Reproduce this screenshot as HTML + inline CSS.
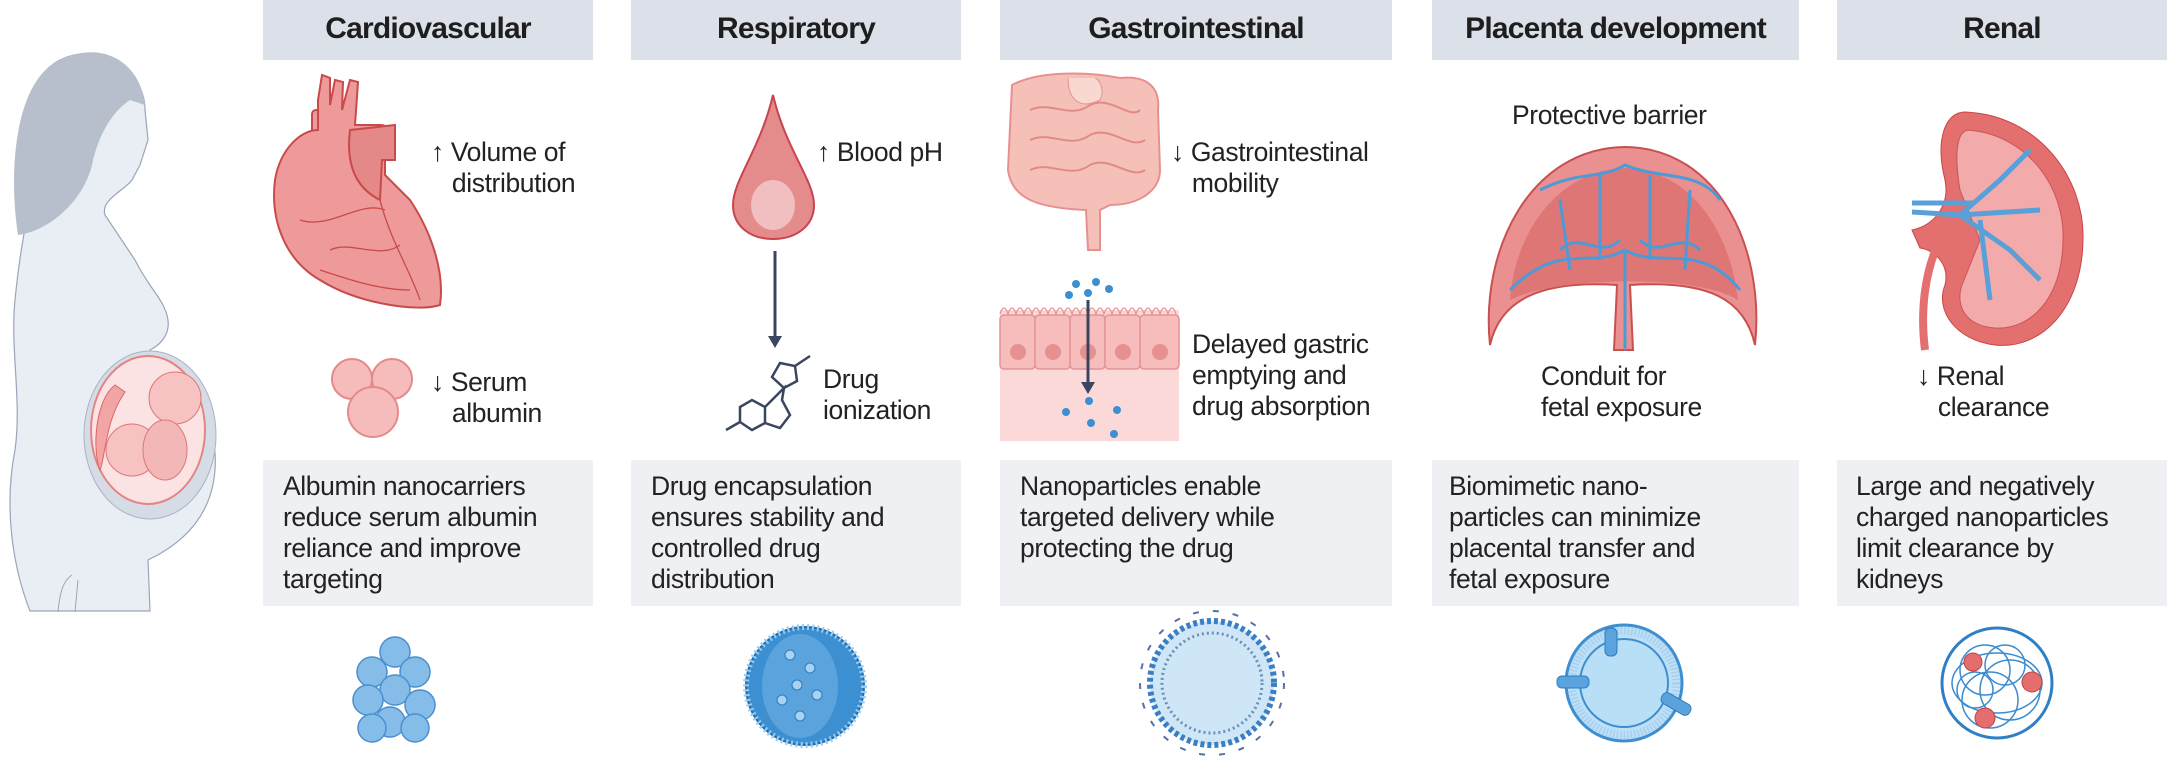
<!DOCTYPE html>
<html><head><meta charset="utf-8"><style>
body{margin:0;width:2167px;height:760px;background:#fff;position:relative;overflow:hidden;font-family:"Liberation Sans",sans-serif;color:#222}
.h{position:absolute;top:0;height:60px;background:#dce1e9;font-weight:bold;font-size:30px;line-height:58px;text-align:center;color:#1e1e1e;letter-spacing:-0.8px}
.b{position:absolute;top:460px;height:146px;background:#eff0f4;font-size:26.5px;line-height:31px;letter-spacing:-0.4px;box-sizing:border-box;padding:11px 0 0 20px;color:#222;white-space:nowrap}
.t{position:absolute;font-size:26.5px;line-height:31px;letter-spacing:-0.4px;color:#222;white-space:nowrap}
svg{position:absolute;left:0;top:0}
</style></head><body>
<svg width="2167" height="760">
<path d="M60 60 C100 40 145 70 145 110 L148 140 L140 165 L132 180 C125 190 100 200 105 215 L135 260 C150 290 165 300 168 320 C170 335 160 345 150 350 L170 380 C200 400 218 430 215 470 C212 510 190 540 148 560 L150 611 L30 611 C10 560 5 500 15 450 C22 400 10 350 15 300 C20 250 25 230 30 200 C20 150 20 80 60 60Z" fill="#e9edf4" stroke="#9aa5b8" stroke-width="1.2"/>
<path d="M60 60 C100 40 140 60 145 105 L130 100 C112 112 98 135 92 165 C82 205 45 232 18 235 C8 170 15 80 60 60Z" fill="#b7bfcc"/>
<path d="M58 612 C60 590 64 580 72 575 M75 612 L78 580" stroke="#9aa5b8" fill="none"/>
<ellipse cx="150" cy="435" rx="66" ry="84" fill="#d6dce6" stroke="#aab3c3"/>
<ellipse cx="148" cy="430" rx="57" ry="74" fill="#fbe3e3" stroke="#e38585" stroke-width="2"/>
<path d="M115 385 C95 400 92 450 100 470 C105 460 105 420 125 392Z" fill="#f2a5a5" stroke="#d66"/>
<circle cx="175" cy="398" r="26" fill="#f7c2c2" stroke="#d77"/>
<circle cx="132" cy="450" r="26" fill="#f7c2c2" stroke="#d77"/>
<ellipse cx="165" cy="450" rx="22" ry="30" fill="#f4b7b7" stroke="#d77"/>
<g stroke="#c94a4a" stroke-width="2" fill="#ee9a9a">
<rect x="312" y="110" width="20" height="60" rx="4"/>
<path d="M318 100 L322 75 L330 78 L330 105 L335 80 L343 82 L342 110 L350 80 L358 82 L355 125 L380 125 C392 125 395 140 385 145 L385 175 L410 200 C430 230 445 270 440 305 C420 312 360 305 320 280 C285 260 270 220 275 180 C280 150 300 130 318 130Z"/>
<path d="M350 130 L395 125 L395 160 L382 160 L380 200 C360 190 345 170 350 130Z" fill="#e58888"/>
<path d="M330 250 C350 240 380 260 400 245 M300 220 C330 230 360 200 385 210 M380 200 C390 240 410 270 420 300 M320 270 C350 280 380 290 410 290" fill="none" stroke-width="1.3"/>
</g>
<g fill="#f6bcbc" stroke="#e48a8a" stroke-width="2">
<circle cx="352" cy="379" r="20"/><circle cx="392" cy="379" r="20"/><circle cx="373" cy="412" r="25"/>
</g>
<path d="M773 95 C760 150 733 180 733 205 C733 226 750 239 773 239 C796 239 814 226 814 205 C814 180 786 150 773 95Z" fill="#e48b8b" stroke="#c9444f" stroke-width="2"/>
<ellipse cx="773" cy="205" rx="22" ry="25" fill="#f4cccc" opacity="0.8"/>
<line x1="775" y1="251" x2="775" y2="340" stroke="#3a4660" stroke-width="3"/>
<path d="M768 336 L775 348 L782 336Z" fill="#3a4660"/>
<g fill="none" stroke="#3a4660" stroke-width="2.5">
<path d="M780 363 L795 366 L797 381 L784 388 L772 377Z M795 366 L810 356 M784 388 L782 400 L790 415 L780 428 L765 423 L765 407Z M765 407 L752 400 L740 407 L740 422 L752 430 L765 423 M740 422 L726 430"/>
</g>
<path d="M1012 85 C1040 70 1090 72 1120 78 C1150 75 1160 90 1158 110 L1160 170 C1160 190 1140 205 1110 205 L1100 210 L1100 250 L1088 250 L1086 210 C1040 208 1012 200 1008 170Z" fill="#f4c0b8" stroke="#e89090" stroke-width="2"/>
<path d="M1030 110 C1050 100 1070 120 1090 105 C1110 95 1130 120 1140 110 M1030 140 C1050 130 1070 150 1090 135 C1110 125 1130 150 1145 140 M1030 170 C1050 160 1070 180 1090 165 C1110 155 1130 180 1145 170" fill="none" stroke="#e08a8a" stroke-width="2"/>
<path d="M1068 78 C1068 100 1080 110 1100 100 C1105 90 1100 80 1095 78" fill="#f9d8d2" stroke="#e89090"/>
<rect x="1000" y="310" width="179" height="131" fill="#fbd9d8"/>
<g fill="#f6bdbc" stroke="#e49494" stroke-width="1.5">
<rect x="1000" y="315" width="35" height="54" rx="4"/><rect x="1035" y="315" width="35" height="54" rx="4"/><rect x="1070" y="315" width="35" height="54" rx="4"/><rect x="1105" y="315" width="35" height="54" rx="4"/><rect x="1140" y="315" width="39" height="54" rx="4"/>
</g>
<g fill="#e69090"><circle cx="1018" cy="352" r="8"/><circle cx="1053" cy="352" r="8"/><circle cx="1088" cy="352" r="8"/><circle cx="1123" cy="352" r="8"/><circle cx="1160" cy="352" r="8"/></g>
<path d="M1000 314 Q1004 302 1008 314 Q1012 302 1016 314 Q1020 302 1024 314 Q1028 302 1032 314 Q1036 302 1040 314 Q1044 302 1048 314 Q1052 302 1056 314 Q1060 302 1064 314 Q1068 302 1072 314 Q1076 302 1080 314 Q1084 302 1088 314 Q1092 302 1096 314 Q1100 302 1104 314 Q1108 302 1112 314 Q1116 302 1120 314 Q1124 302 1128 314 Q1132 302 1136 314 Q1140 302 1144 314 Q1148 302 1152 314 Q1156 302 1160 314 Q1164 302 1168 314 Q1172 302 1176 314" fill="none" stroke="#e49494" stroke-width="1.3"/>
<g fill="#3d8fcf"><circle cx="1076" cy="284" r="4"/><circle cx="1096" cy="282" r="4"/><circle cx="1069" cy="295" r="4"/><circle cx="1088" cy="293" r="4"/><circle cx="1109" cy="289" r="4"/><circle cx="1089" cy="401" r="4"/><circle cx="1066" cy="412" r="4"/><circle cx="1091" cy="423" r="4"/><circle cx="1117" cy="410" r="4"/><circle cx="1114" cy="434" r="4"/></g>
<line x1="1088" y1="300" x2="1088" y2="385" stroke="#3a4660" stroke-width="3"/>
<path d="M1081 382 L1088 394 L1095 382Z" fill="#3a4660"/>
<path d="M1490 345 C1480 250 1530 148 1625 147 C1720 148 1765 250 1755 345 C1745 300 1710 280 1630 285 L1633 350 L1614 350 L1617 285 C1540 280 1500 300 1490 345Z" fill="#ea9090" stroke="#c95050" stroke-width="2"/>
<path d="M1510 300 C1515 230 1560 170 1625 168 C1690 170 1730 230 1738 300 C1700 275 1560 275 1510 300Z" fill="#de7676"/>
<path d="M1510 290 C1560 240 1590 270 1625 250 C1660 270 1700 240 1740 290 M1540 190 C1580 170 1600 180 1625 165 C1660 180 1700 170 1720 200 M1625 250 L1625 350 M1560 200 L1570 270 M1600 175 L1600 260 M1650 175 L1650 260 M1690 190 L1685 270 M1560 250 C1580 230 1600 260 1620 240 M1640 240 C1660 260 1680 230 1700 250" fill="none" stroke="#4d9bd6" stroke-width="3"/>
<path d="M1965 112 C2040 115 2085 180 2083 240 C2082 310 2040 350 1995 345 C1955 340 1935 310 1945 285 C1950 265 1935 250 1920 248 L1912 230 C1935 225 1950 205 1945 180 C1935 140 1945 112 1965 112Z" fill="#e36f6f" stroke="#c44"/>
<path d="M1968 130 C2030 135 2065 190 2063 240 C2062 300 2030 330 1995 328 C1965 326 1955 305 1962 285 L1980 240 L1960 190 C1955 160 1955 132 1968 130Z" fill="#f2aaaa" stroke="#c55"/>
<path d="M1912 203 L1975 203 M1912 212 L1960 215 L2000 180 L2030 150 M1960 215 L2010 250 L2040 280 M1980 220 L1990 300 M1960 215 L2040 210" fill="none" stroke="#5aa0d8" stroke-width="5"/>
<path d="M1940 240 C1925 270 1920 310 1925 350" fill="none" stroke="#e36f6f" stroke-width="8"/>
<g fill="#86bde8" stroke="#4a8fcf" stroke-width="1.5">
<circle cx="395" cy="652" r="15"/><circle cx="372" cy="672" r="15"/><circle cx="415" cy="672" r="15"/><circle cx="395" cy="690" r="15"/><circle cx="368" cy="700" r="15"/><circle cx="420" cy="705" r="15"/><circle cx="390" cy="722" r="15"/><circle cx="415" cy="728" r="14"/><circle cx="372" cy="728" r="14"/>
</g>
<circle cx="805" cy="686" r="59" fill="#3c8fd0" stroke="#1f6fb2" stroke-width="2"/>
<circle cx="805" cy="686" r="59" fill="none" stroke="#9cccf0" stroke-width="6" stroke-dasharray="2 3"/>
<ellipse cx="800" cy="686" rx="38" ry="52" fill="#5aa3dc"/>
<g fill="#a8d2f2" stroke="#2c7cc0"><circle cx="790" cy="655" r="5"/><circle cx="810" cy="668" r="5"/><circle cx="797" cy="685" r="5"/><circle cx="817" cy="695" r="5"/><circle cx="782" cy="700" r="5"/><circle cx="800" cy="716" r="5"/></g>
<circle cx="1212" cy="683" r="62" fill="#cfe6f7" stroke="#3a7fc4" stroke-width="6" stroke-dasharray="4 3"/>
<circle cx="1212" cy="683" r="50" fill="none" stroke="#6a8fb8" stroke-width="3" stroke-dasharray="2 3"/>
<circle cx="1212" cy="683" r="72" fill="none" stroke="#5a6fa8" stroke-width="2" stroke-dasharray="6 14"/>
<circle cx="1624" cy="683" r="58" fill="#bde0f7" stroke="#3f8fd0" stroke-width="3"/>
<circle cx="1624" cy="683" r="52" fill="none" stroke="#a6cff0" stroke-width="8" stroke-dasharray="1.5 2"/>
<circle cx="1624" cy="683" r="44" fill="#b9dff7" stroke="#3f8fd0" stroke-width="2"/>
<g fill="#5aa3dc" stroke="#2c7cc0"><rect x="1557" y="676" width="32" height="12" rx="5"/><rect x="1660" y="698" width="32" height="12" rx="5" transform="rotate(30 1676 704)"/><rect x="1605" y="628" width="12" height="28" rx="5"/></g>
<circle cx="1997" cy="683" r="55" fill="#fff" stroke="#2f7fc7" stroke-width="3"/>
<g fill="none" stroke="#3b8bd0" stroke-width="1.5"><circle cx="1985" cy="670" r="25"/><circle cx="2010" cy="690" r="30"/><circle cx="1990" cy="700" r="28"/><circle cx="2005" cy="665" r="20"/><circle cx="1975" cy="690" r="18"/><ellipse cx="1997" cy="683" rx="45" ry="30"/></g>
<g fill="#e46d6d" stroke="#b44"><circle cx="1973" cy="662" r="9"/><circle cx="2032" cy="682" r="10"/><circle cx="1985" cy="718" r="10"/></g>
</svg>
<div class="h" style="left:263px;width:330px">Cardiovascular</div>
<div class="h" style="left:631px;width:330px">Respiratory</div>
<div class="h" style="left:1000px;width:392px">Gastrointestinal</div>
<div class="h" style="left:1432px;width:367px">Placenta development</div>
<div class="h" style="left:1837px;width:330px">Renal</div>
<div class="t" style="left:431px;top:137px">↑ Volume of<br>&nbsp;&nbsp;&nbsp;distribution</div>
<div class="t" style="left:431px;top:367px">↓ Serum<br>&nbsp;&nbsp;&nbsp;albumin</div>
<div class="t" style="left:817px;top:137px">↑ Blood pH</div>
<div class="t" style="left:823px;top:364px">Drug<br>ionization</div>
<div class="t" style="left:1171px;top:137px">↓ Gastrointestinal<br>&nbsp;&nbsp;&nbsp;mobility</div>
<div class="t" style="left:1192px;top:329px">Delayed gastric<br>emptying and<br>drug absorption</div>
<div class="t" style="left:1512px;top:100px">Protective barrier</div>
<div class="t" style="left:1541px;top:361px">Conduit for<br>fetal exposure</div>
<div class="t" style="left:1917px;top:361px">↓ Renal<br>&nbsp;&nbsp;&nbsp;clearance</div>
<div class="b" style="left:263px;width:330px">Albumin nanocarriers<br>reduce serum albumin<br>reliance and improve<br>targeting</div>
<div class="b" style="left:631px;width:330px">Drug encapsulation<br>ensures stability and<br>controlled drug<br>distribution</div>
<div class="b" style="left:1000px;width:392px">Nanoparticles enable<br>targeted delivery while<br>protecting the drug</div>
<div class="b" style="left:1432px;width:367px;padding-left:17px">Biomimetic nano-<br>particles can minimize<br>placental transfer and<br>fetal exposure</div>
<div class="b" style="left:1837px;width:330px;padding-left:19px">Large and negatively<br>charged nanoparticles<br>limit clearance by<br>kidneys</div>
</body></html>
